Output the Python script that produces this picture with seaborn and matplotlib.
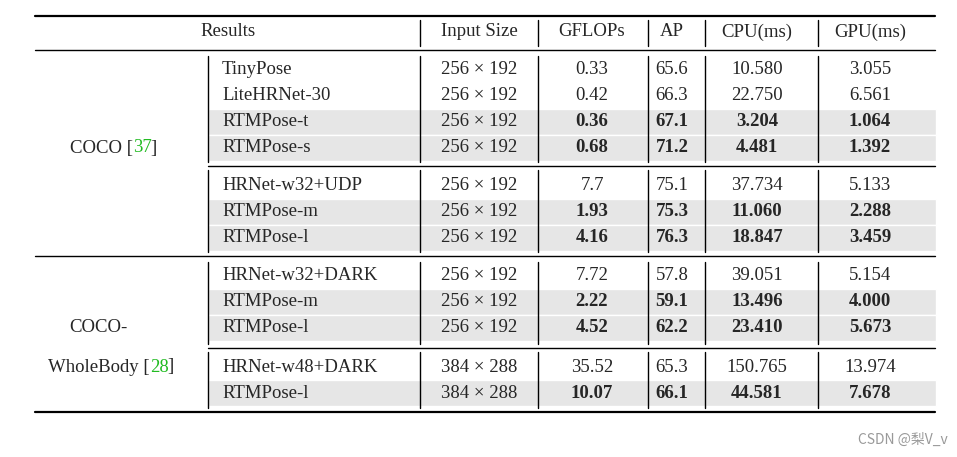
import matplotlib
matplotlib.use("Agg")
import matplotlib.pyplot as plt
import seaborn as sns

sns.set_style("white")
plt.rcParams["font.family"] = ["Liberation Serif", "DejaVu Serif"]

HEADERS = ["Input Size", "GFLOPs", "AP", "CPU(ms)", "GPU(ms)"]
MODELS = ["TinyPose", "LiteHRNet-30", "RTMPose-t", "RTMPose-s",
          "HRNet-w32+UDP", "RTMPose-m", "RTMPose-l",
          "HRNet-w32+DARK", "RTMPose-m", "RTMPose-l",
          "HRNet-w48+DARK", "RTMPose-l"]
INPUT = ["256 × 192"] * 10 + ["384 × 288"] * 2
GFLOPS = ["0.33", "0.42", "0.36", "0.68", "7.7", "1.93", "4.16",
          "7.72", "2.22", "4.52", "35.52", "10.07"]
AP = ["65.6", "66.3", "67.1", "71.2", "75.1", "75.3", "76.3",
      "57.8", "59.1", "62.2", "65.3", "66.1"]
CPU = ["10.580", "22.750", "3.204", "4.481", "37.734", "11.060", "18.847",
       "39.051", "13.496", "23.410", "150.765", "44.581"]
GPU = ["3.055", "6.561", "1.064", "1.392", "5.133", "2.288", "3.459",
       "5.154", "4.000", "5.673", "13.974", "7.678"]
HIGHLIGHT = [False, False, True, True, False, True, True,
             False, True, True, False, True]

row_y = [70, 96, 122, 148, 186, 212, 238, 276, 302, 328, 367, 393]
col_x = [479, 592, 672, 757, 870]
col_lines = [420, 538, 648, 705, 818]

fig = plt.figure(figsize=(9.57, 4.57), dpi=100)
ax = fig.add_axes([0, 0, 1, 1])
ax.set_xlim(0, 957)
ax.set_ylim(457, 0)
ax.axis("off")

# shaded rows
hy = [y for y, h in zip(row_y, HIGHLIGHT) if h]
ax.barh(hy, 728, height=26, left=208, color="#e6e6e6", zorder=0)

fs = 13.5
ax.text(228, 32, "Results", ha="center", va="center", fontsize=fs)
for x, h in zip(col_x, HEADERS):
    ax.text(x, 32, h, ha="center", va="center", fontsize=fs)

for i, y in enumerate(row_y):
    w = "bold" if HIGHLIGHT[i] else "normal"
    ax.text(222, y, MODELS[i], ha="left", va="center", fontsize=fs)
    ax.text(col_x[0], y, INPUT[i], ha="center", va="center", fontsize=fs)
    for x, v in zip(col_x[1:], [GFLOPS[i], AP[i], CPU[i], GPU[i]]):
        ax.text(x, y, v, ha="center", va="center", fontsize=fs, fontweight=w)

ax.text(133, 148, "COCO [", ha="right", va="center", fontsize=fs)
ax.text(133, 148, "37", ha="left", va="center", fontsize=fs, color="#22bb22")
ax.text(150, 148, "]", ha="left", va="center", fontsize=fs)
ax.text(98, 328, "COCO-", ha="center", va="center", fontsize=fs)
ax.text(150, 367, "WholeBody [", ha="right", va="center", fontsize=fs)
ax.text(150, 367, "28", ha="left", va="center", fontsize=fs, color="#22bb22")
ax.text(167, 367, "]", ha="left", va="center", fontsize=fs)

# rules
ax.plot([35, 935], [16, 16], color="black", lw=1.6)
ax.plot([35, 935], [50, 50], color="black", lw=1.0)
ax.plot([35, 935], [256, 256], color="black", lw=1.0)
ax.plot([35, 935], [412, 412], color="black", lw=1.6)
ax.plot([208, 935], [166, 166], color="black", lw=1.0)
ax.plot([208, 935], [348, 348], color="black", lw=1.0)
for x in col_lines:
    ax.plot([x, x], [20, 46], color="black", lw=1.0)
    for y0, y1 in [(56, 162), (170, 252), (262, 344), (352, 408)]:
        ax.plot([x, x], [y0, y1], color="black", lw=1.0)
for y0, y1 in [(56, 162), (170, 252), (262, 344), (352, 408)]:
    ax.plot([208, 208], [y0, y1], color="black", lw=1.0)

ax.text(948, 440, "CSDN @梨V_v", ha="right", va="center", fontsize=10,
        color="#999999", family=["Noto Sans CJK SC", "DejaVu Sans"])

fig.savefig("out.png", dpi=100)
